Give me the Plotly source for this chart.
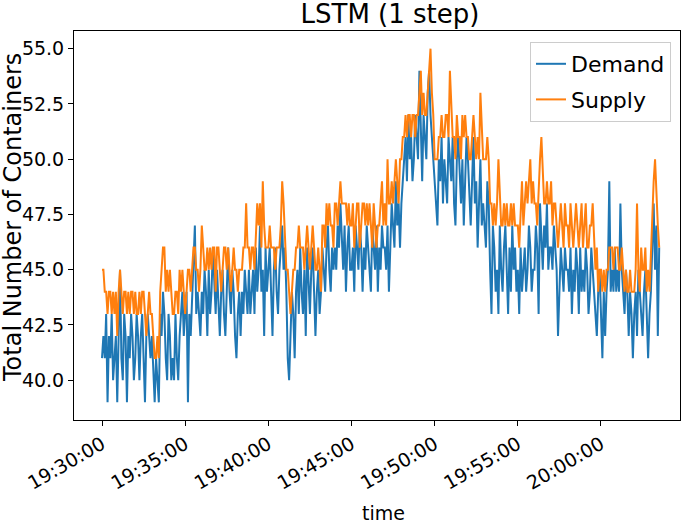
import pandas as pd
import plotly.graph_objects as go

# 5-second samples starting at 19:30:00 (one row = one minute)
demand = [
    41,42,41,43,39,42,41,43,40,41,42,39,
    42,45,41,40,43,42,39,42,41,43,42,40,
    41,43,42,40,42,43,41,39,42,43,42,41,
    42,40,39,41,40,39,43,42,44,43,41,40,
    43,42,40,41,40,43,41,40,42,43,44,42,
    43,44,39,43,42,44,45,47,43,44,43,42,
    44,43,45,44,42,45,43,44,46,44,43,45,
    43,42,44,45,43,42,44,46,44,43,45,44,
    42,41,43,44,42,44,43,45,44,43,45,43,
    44,45,43,46,44,45,47,44,45,42,46,44,
    45,46,44,42,45,46,44,43,45,46,47,45,
    46,44,41,40,42,44,43,41,44,45,43,46,
    44,43,45,42,46,44,43,45,46,44,42,44,
    45,43,44,46,45,44,46,47,45,44,46,45,
    46,45,47,46,48,46,45,47,44,46,47,45,
    45,46,44,47,46,45,47,46,44,46,45,47,
    46,45,44,47,46,45,47,44,46,45,47,46,
    46,45,47,44,46,48,47,46,49,47,48,46,
    48,49,50,51,49,52,50,51,49,50,52,51,
    50,54,51,49,52,51,50,53,54,52,51,50,
    49,48,47,50,49,51,48,50,49,48,51,50,
    49,51,48,47,50,51,49,48,50,47,49,51,
    50,48,47,49,51,48,49,46,48,50,47,48,
    47,46,49,48,45,43,47,46,44,45,43,47,
    45,44,46,47,45,43,46,44,47,45,46,44,
    45,43,46,44,45,46,44,45,47,46,44,45,
    45,47,46,43,48,46,45,47,46,48,45,46,
    46,45,47,46,45,42,44,46,45,44,46,45,
    45,44,46,43,45,44,46,45,43,46,44,45,
    44,46,45,43,44,46,45,44,43,42,44,45,
    43,41,44,42,44,45,49,44,45,44,46,44,
    45,44,48,45,44,43,45,44,42,44,43,41,
    43,44,42,45,44,43,42,44,45,43,41,43,
    44,46,48,45,47,42,46,
]

supply = [
    45,45,44,44,43,44,44,43,44,43,44,42,
    44,45,44,43,44,44,43,44,43,44,44,43,
    44,43,43,44,43,44,44,43,42,43,44,43,
    43,42,41,41,42,41,44,45,46,46,44,45,
    44,45,44,43,43,44,44,43,45,44,45,44,
    43,44,45,45,44,45,46,46,45,45,44,45,
    47,46,45,45,46,45,46,45,46,46,44,46,
    46,45,44,45,46,46,45,46,45,44,45,46,
    45,45,44,45,45,45,46,46,48,46,46,45,
    46,46,45,47,48,47,48,46,49,47,46,46,
    46,47,46,46,46,45,46,46,46,47,49,48,
    46,45,45,44,43,44,45,45,46,46,47,46,
    46,46,45,46,47,46,45,46,47,46,45,45,
    46,45,44,47,47,46,48,47,48,47,47,46,
    48,48,47,48,49,48,48,48,48,47,48,47,
    47,48,46,47,48,48,46,47,48,48,47,48,
    47,48,47,46,48,47,46,47,47,48,49,47,
    48,47,50,48,48,49,48,49,50,49,48,50,
    50,51,51,52,51,52,52,51,52,52,51,52,
    52,53,54,52,53,52,52,53,54,55,53,52,
    50,50,50,51,51,52,51,51,52,52,51,54,
    52,51,51,50,52,51,51,50,52,51,52,51,
    51,50,50,51,52,51,50,51,50,53,51,50,
    50,50,51,50,48,48,47,48,47,48,50,48,
    47,47,48,47,48,47,47,48,47,48,47,47,
    47,46,48,49,47,48,49,48,49,50,48,49,
    48,48,47,49,50,51,49,48,48,49,48,48,
    49,47,48,48,47,46,47,48,47,46,48,47,
    47,46,48,47,46,47,48,47,46,47,48,46,
    47,48,46,46,47,47,48,46,45,46,44,45,
    45,44,45,44,45,45,46,46,46,45,46,46,
    46,45,45,46,45,44,45,44,44,45,44,44,
    44,45,48,45,44,46,45,45,46,44,45,44,
    46,47,49,50,48,47,46,
]

start_time = "2000-01-01 19:30:00"
tick_labels = ["19:30:00", "19:35:00", "19:40:00", "19:45:00",
               "19:50:00", "19:55:00", "20:00:00"]
y_ticks = [40.0, 42.5, 45.0, 47.5, 50.0, 52.5, 55.0]

times = pd.date_range(start_time, periods=len(demand), freq="5s")
tick_vals = [pd.Timestamp("2000-01-01 " + t) for t in tick_labels]

W, H = 685, 526
L, R, T, B = 74, 5, 31, 106
PW, PH = W - L - R, H - T - B

fig = go.Figure()
fig.add_trace(go.Scatter(x=times, y=demand, mode="lines", name="Demand",
                         legendgroup="d",
                         line=dict(color="#1f77b4", width=2)))
fig.add_trace(go.Scatter(x=times, y=supply, mode="lines", name="Supply",
                         legendgroup="s",
                         line=dict(color="#ff7f0e", width=2)))

font_family = "DejaVu Sans"
fig.update_layout(
    width=W, height=H,
    margin=dict(l=L, r=R, t=T, b=B),
    paper_bgcolor="white", plot_bgcolor="white",
    font=dict(family=font_family, size=19, color="black"),
    title=dict(text="LSTM (1 step)", x=390 / W, xanchor="center",
               y=1 - 14 / H, yanchor="middle",
               font=dict(size=26, color="black")),
    legend=dict(x=(671 - L) / PW, y=(H - B - 42) / PH, xanchor="right", yanchor="top",
                bgcolor="rgba(255,255,255,0.8)", bordercolor="#cccccc",
                borderwidth=1, font=dict(size=22),
                traceorder="grouped", tracegroupgap=4),
    showlegend=True,
    hovermode=False,
    annotations=[
        dict(text="Total Number of Containers", textangle=-90,
             xref="paper", yref="paper", x=-(L - 13) / PW, y=(H - B - 218) / PH,
             xanchor="center", yanchor="middle", showarrow=False,
             font=dict(size=24)),
        dict(text="time", xref="paper", yref="paper",
             x=(383 - L) / PW, y=-(513 - (H - B)) / PH,
             xanchor="center", yanchor="middle", showarrow=False,
             font=dict(size=19)),
    ],
)
fig.update_xaxes(
    range=[pd.Timestamp("2000-01-01 19:28:19"), pd.Timestamp("2000-01-01 20:04:45")],
    tickvals=tick_vals, ticktext=tick_labels, tickangle=-30,
    showgrid=False, zeroline=False, automargin=False,
    showline=True, linecolor="black", linewidth=1, mirror=True,
    ticks="outside", ticklen=5, tickcolor="black",
)
fig.update_yaxes(
    range=[38.2, 55.8], tickvals=y_ticks,
    ticktext=[f"{v:.1f}" for v in y_ticks],
    showgrid=False, zeroline=False, automargin=False,
    showline=True, linecolor="black", linewidth=1, mirror=True,
    ticks="outside", ticklen=5, tickcolor="black",
)

fig.write_html("out.html", config={"displayModeBar": False},
               post_script="document.body.style.margin='0';")
